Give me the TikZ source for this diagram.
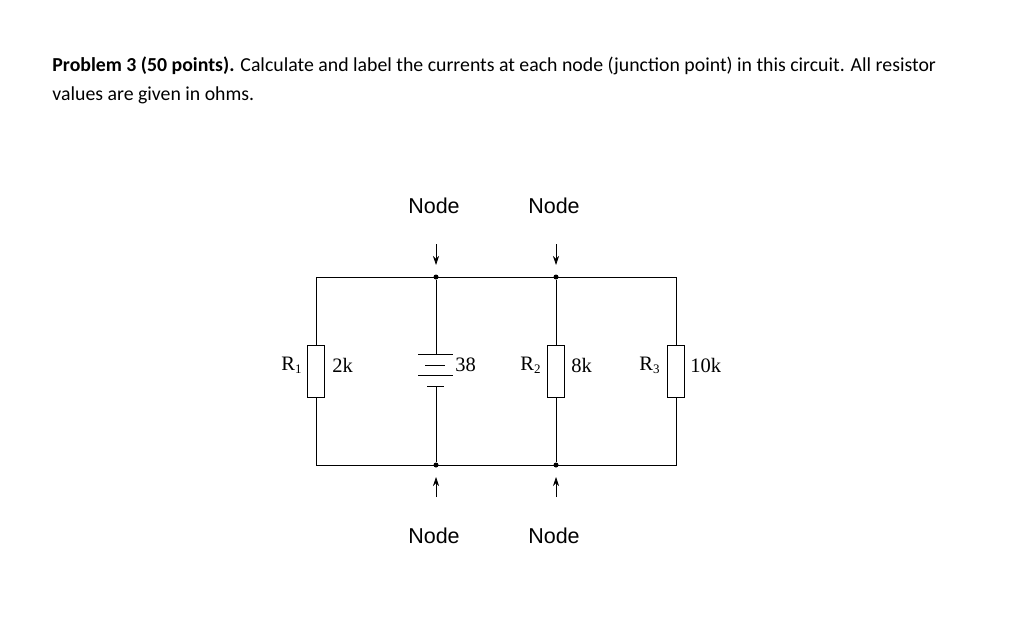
\documentclass[tikz,border=0pt]{standalone}
\usepackage{fontspec}
\setmainfont{Carlito}
\newfontfamily\hel{Liberation Sans}
\newfontfamily\tim{Liberation Serif}
\usetikzlibrary{arrows.meta}
\begin{document}
\begin{tikzpicture}[x=1pt,y=-1pt,line width=0.9pt,
  res/.style={draw,fill=white,minimum width=17pt,minimum height=52pt,inner sep=0pt,line width=0.9pt},
  dot/.style={circle,fill,inner sep=0pt,minimum size=5pt},
  lbl/.style={font=\tim\fontsize{20.5}{20.5}\selectfont,inner sep=0pt},
  nl/.style={font=\hel\fontsize{21.5}{21.5}\selectfont,inner sep=0pt},
  arr/.style={-{Stealth[length=9pt,width=6pt]},line width=0.7pt}]
\useasboundingbox (0,0) rectangle (1024,634);
\node[anchor=base west,inner sep=0pt,font=\fontsize{19.8}{19.8}\selectfont] (t1) at (52,71) {\textbf{Problem 3 (50 points).} Calculate and label the currents at each node (junction point) in this circuit. All resistor};
\node[anchor=base west,inner sep=0pt,font=\fontsize{19.8}{19.8}\selectfont] (t2) at (52,100) {values are given in ohms.};
\coordinate (tl) at (316,277); \coordinate (tr) at (676,277);
\coordinate (bl) at (316,465); \coordinate (br) at (676,465);
\node[dot] (n1) at (436,277) {}; \node[dot] (n2) at (556,277) {};
\node[dot] (n3) at (436,465) {}; \node[dot] (n4) at (556,465) {};
\draw (bl) -- (tl) -- (tr) -- (br) -- cycle;
\draw (n1) -- (436,354); \draw (n3) -- (436,386);
\draw (n2) -- (n4);
\node[res] (r1) at (316,371) {};
\node[res] (r2) at (556,371) {};
\node[res] (r3) at (676,371) {};
\draw (418,354) -- (453,354);
\draw (425,365) -- (445,365);
\draw (418,375) -- (453,375);
\draw (427,386) -- (444,386);
\node[lbl,anchor=east] (l1) at (302,365) {R\raisebox{-0.35ex}{\fontsize{13}{13}\selectfont 1}};
\node[lbl,anchor=west] (v1) at (332,365) {2k};
\node[lbl,anchor=west] (v0) at (455,365) {38};
\node[lbl,anchor=east] (l2) at (541,365) {R\raisebox{-0.35ex}{\fontsize{13}{13}\selectfont 2}};
\node[lbl,anchor=west] (v2) at (571,365) {8k};
\node[lbl,anchor=east] (l3) at (660,365) {R\raisebox{-0.35ex}{\fontsize{13}{13}\selectfont 3}};
\node[lbl,anchor=west] (v3) at (690,365) {10k};
\node[nl] (a1) at (434,206) {Node};
\node[nl] (a2) at (554,206) {Node};
\node[nl] (a3) at (434,536) {Node};
\node[nl] (a4) at (554,536) {Node};
\coordinate (s1) at (436,244); \coordinate (e1) at (436,265);
\coordinate (s2) at (556,244); \coordinate (e2) at (556,265);
\coordinate (s3) at (436,497); \coordinate (e3) at (436,477);
\coordinate (s4) at (556,497); \coordinate (e4) at (556,477);
\draw[arr] (s1) -- (e1); \draw[arr] (s2) -- (e2);
\draw[arr] (s3) -- (e3); \draw[arr] (s4) -- (e4);
\end{tikzpicture}
\end{document}
